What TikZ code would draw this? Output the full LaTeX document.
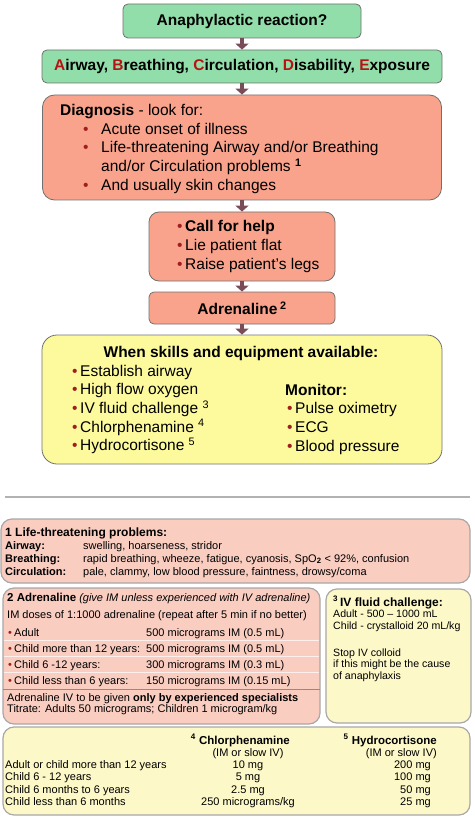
\documentclass[tikz,border=0pt]{standalone}
\usepackage{fontspec}
\setmainfont{Liberation Sans}
\usetikzlibrary{arrows.meta}
\definecolor{mint}{RGB}{146,222,170}
\definecolor{salmon}{RGB}{249,163,140}
\definecolor{lemon}{RGB}{253,250,158}
\definecolor{notesalmon}{RGB}{250,205,193}
\definecolor{notelemon}{RGB}{253,248,200}
\definecolor{edgegray}{RGB}{112,112,112}
\definecolor{notegray}{RGB}{168,168,168}
\definecolor{arrowbrown}{RGB}{122,76,88}
\definecolor{bulletred}{RGB}{160,30,30}
\definecolor{abcred}{RGB}{180,20,20}
\newcommand{\flowfont}{\fontsize{15.5}{18.7}\selectfont}
\newcommand{\notefont}{\fontsize{11}{13}\selectfont}
\newcommand{\bul}[1][18pt]{\makebox[#1][l]{\textcolor{bulletred}{\textbullet}}}
\newcommand{\abc}[1]{\textcolor{abcred}{#1}}
\tikzset{
  flowbox/.style={draw=edgegray,line width=0.8pt,inner sep=0pt},
  notebox/.style={draw=notegray,line width=1.2pt,rounded corners=11pt,inner sep=0pt},
  txt/.style={inner sep=0pt,anchor=base west},
  arr/.style={draw=arrowbrown,line width=4pt,-{Triangle[width=13pt,length=6pt]}},
  sepline/.style={draw=black!30,line width=2.5pt},
  rowline/.style={draw=white,line width=0.8pt,opacity=0.7},
  splitline/.style={draw=black!45,line width=1pt}
}

\begin{document}
\begin{tikzpicture}[x=1pt,y=-1pt,font=\flowfont]
    \useasboundingbox (0,0) rectangle (474,818);

    \draw node at (242,21)[name=reaction,flowbox,fill=mint,rounded corners=5pt,minimum width=238pt,minimum height=34pt]{\textbf{Anaphylactic reaction?}};
    \draw node at (242,66.5)[name=abcde,flowbox,fill=mint,rounded corners=5pt,minimum width=400pt,minimum height=33pt]{\textbf{\abc{A}irway, \abc{B}reathing, \abc{C}irculation, \abc{D}isability, \abc{E}xposure}};
    \draw node at (242,147.5)[name=diagnosis,flowbox,fill=salmon,rounded corners=12pt,minimum width=399pt,minimum height=105pt]{};
    \draw node at (60,115.5)[name=diagtext,txt]{\parbox[t]{370pt}{\textbf{Diagnosis} - look for:\\
      \hspace*{23pt}\bul Acute onset of illness\\
      \hspace*{23pt}\bul Life-threatening Airway and/or Breathing\\
      \hspace*{41pt}and/or Circulation problems \textsuperscript{\textbf{1}}\\
      \hspace*{23pt}\bul And usually skin changes}};
    \draw node at (242,246.5)[name=callhelp,flowbox,fill=salmon,rounded corners=10pt,minimum width=186pt,minimum height=69pt]{};
    \draw node at (177,232)[name=calltext,txt]{\parbox[t]{150pt}{\bul[8pt]\textbf{Call for help}\\
      \bul[8pt]Lie patient flat\\
      \bul[8pt]Raise patient's legs}};
    \draw node at (242,308)[name=adrenaline,flowbox,fill=salmon,rounded corners=5pt,minimum width=186pt,minimum height=32pt]{\textbf{Adrenaline}\,\textsuperscript{\textbf{2}}};
    \draw node at (242,399.5)[name=skills,flowbox,fill=lemon,rounded corners=15pt,minimum width=400pt,minimum height=129pt]{};
    \draw node at (241,357)[name=skillstitle,inner sep=0pt,anchor=base]{\textbf{When skills and equipment available:}};
    \draw node at (72,376)[name=skillslist,txt]{\parbox[t]{200pt}{\bul[8pt]Establish airway\\
      \bul[8pt]High flow oxygen\\
      \bul[8pt]IV fluid challenge \textsuperscript{3}\\
      \bul[8pt]Chlorphenamine \textsuperscript{4}\\
      \bul[8pt]Hydrocortisone \textsuperscript{5}}};
    \draw node at (285,395)[name=monitor,txt]{\parbox[t]{150pt}{\textbf{Monitor:}\\
      \hspace*{2pt}\bul[8pt]Pulse oximetry\\
      \hspace*{2pt}\bul[8pt]ECG\\
      \hspace*{2pt}\bul[8pt]Blood pressure}};

    \draw[arr](reaction) -- (abcde);
    \draw[arr](abcde) -- (diagnosis);
    \draw[arr](diagnosis) -- (callhelp);
    \draw[arr](callhelp) -- (adrenaline);
    \draw[arr](adrenaline) -- (skills);

    \draw[sepline] (5,497) -- (470,497);

    \begin{scope}[font=\notefont]
      \draw node at (235.5,551)[name=fnproblems,notebox,fill=notesalmon,minimum width=469pt,minimum height=64pt]{};
      \draw node at (5,536)[name=problemstext,txt]{\parbox[t]{460pt}{{\fontsize{12}{13}\selectfont\textbf{1 Life-threatening problems:}}\\
        \makebox[78pt][l]{\textbf{Airway:}}swelling, hoarseness, stridor\\
        \makebox[78pt][l]{\textbf{Breathing:}}rapid breathing, wheeze, fatigue, cyanosis, SpO\textsubscript{\textbf{2}} < 92\%, confusion\\
        \makebox[78pt][l]{\textbf{Circulation:}}pale, clammy, low blood pressure, faintness, drowsy/coma}};

      \draw node at (161.5,656)[name=fnadrenaline,notebox,fill=notesalmon,minimum width=317pt,minimum height=136pt]{};
      \foreach \y in {640.5,656.5,672.5}
        \draw[rowline] (4,\y) -- (319,\y);
      \draw[splitline] (3,689) -- (320,689);
      \draw node at (7,601)[name=adrhead,txt]{\parbox[t]{320pt}{{\fontsize{11.5}{13}\selectfont\textbf{2 Adrenaline}} \textit{(give IM unless experienced with IV adrenaline)}\\[4pt]
        IM doses of 1:1000 adrenaline (repeat after 5 min if no better)}};
      \draw node at (8,636)[name=adrdoses,txt,font=\fontsize{11}{16}\selectfont]{\parbox[t]{310pt}{\bul[6pt]\makebox[132pt][l]{Adult}500 micrograms IM (0.5 mL)\\
        \bul[6pt]\makebox[132pt][l]{Child more than 12 years:}500 micrograms IM (0.5 mL)\\
        \bul[6pt]\makebox[132pt][l]{Child 6 -12 years:}300 micrograms IM (0.3 mL)\\
        \bul[6pt]\makebox[132pt][l]{Child less than 6 years:}150 micrograms IM (0.15 mL)}};
      \draw node at (7,701)[name=adrivtext,txt,font=\fontsize{11}{11.5}\selectfont]{\parbox[t]{310pt}{Adrenaline IV to be given \textbf{only by experienced specialists}\\
        Titrate: Adults 50 micrograms; Children 1 microgram/kg}};

      \draw node at (398.5,656)[name=fnfluid,notebox,fill=notelemon,minimum width=145pt,minimum height=134pt]{};
      \draw node at (333,606)[name=fluidtext,txt,font=\fontsize{10.6}{11.5}\selectfont]{\parbox[t]{140pt}{{\fontsize{12}{11.5}\selectfont\textbf{\textsuperscript{3}\,IV fluid challenge:}}\\
        Adult - 500 -- 1000 mL\\
        Child - crystalloid 20 mL/kg\\[15.5pt]
        Stop IV colloid\\
        if this might be the cause\\
        of anaphylaxis}};

      \draw node at (236.5,771)[name=fndoses,notebox,fill=notelemon,minimum width=467pt,minimum height=88pt]{};
      \draw node at (290,744)[name=chlorhead,inner sep=0pt,anchor=base east,font=\fontsize{11.5}{13}\selectfont]{\textbf{\textsuperscript{4} Chlorphenamine}};
      \draw node at (248,756)[name=chlorroute,inner sep=0pt,anchor=base]{(IM or slow IV)};
      \draw node at (437,744)[name=hydrohead,inner sep=0pt,anchor=base east,font=\fontsize{11.5}{13}\selectfont]{\textbf{\textsuperscript{5} Hydrocortisone}};
      \draw node at (437,756)[name=hydroroute,inner sep=0pt,anchor=base east]{(IM or slow IV)};
      \draw node at (5,768.5)[name=agegroups,txt,font=\fontsize{11}{12.3}\selectfont]{\parbox[t]{200pt}{Adult or child more than 12 years\\
        Child 6 - 12 years\\
        Child 6 months to 6 years\\
        Child less than 6 months}};
      \draw node at (248,768.5)[name=chlordoses,inner sep=0pt,anchor=base,font=\fontsize{11}{12.3}\selectfont]{\parbox[t]{150pt}{\centering 10 mg\\5 mg\\2.5 mg\\250 micrograms/kg}};
      \draw node at (431,768.5)[name=hydrodoses,inner sep=0pt,anchor=base east,font=\fontsize{11}{12.3}\selectfont]{\parbox[t]{80pt}{\raggedleft 200 mg\\100 mg\\50 mg\\25 mg}};
    \end{scope}
\end{tikzpicture}
\end{document}
